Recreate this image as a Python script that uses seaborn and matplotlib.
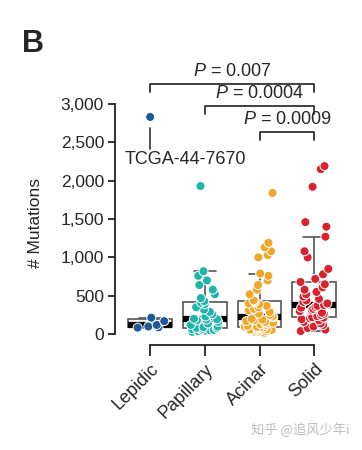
import numpy as np
import pandas as pd
import matplotlib
matplotlib.use("Agg")
import matplotlib.pyplot as plt
import seaborn as sns

# -------- data --------
groups = ["Lepidic", "Papillary", "Acinar", "Solid"]
colors = ["#1f5a96", "#1fb5a8", "#f0a628", "#d8232f"]

lepidic = [85, 90, 100, 120, 170, 215, 2830]
papillary = [30, 40, 45, 50, 55, 60, 65, 75, 78, 82, 90, 100, 120, 140, 160, 180,
             190, 195, 200, 230, 260, 290, 320, 350, 390, 410, 430, 470, 520, 580,
             640, 700, 760, 820, 1930]
acinar = [20, 30, 35, 40, 50, 55, 60, 65, 70, 80, 85, 90, 95, 100, 110, 120, 130,
          140, 150, 160, 170, 180, 190, 200, 220, 230, 250, 270, 290, 310, 330, 350,
          370, 390, 400, 420, 430, 440, 520, 580, 640, 700, 760, 790, 1000, 1030,
          1080, 1130, 1190, 1840]
solid = [40, 60, 80, 100, 120, 140, 160, 180, 195, 205, 215, 220, 235, 250, 265,
         280, 300, 315, 330, 345, 355, 370, 380, 400, 420, 440, 460, 490, 520, 550,
         580, 610, 650, 680, 720, 780, 850, 1000, 1080, 1270, 1400, 1460, 1920,
         2150, 2190]

pairs = [("Lepidic", "Solid", "0.007"),
         ("Papillary", "Solid", "0.0004"),
         ("Acinar", "Solid", "0.0009")]
bracket_y = [3260, 2975, 2635]

values = [lepidic, papillary, acinar, solid]
df = pd.DataFrame({
    "Group": [g for g, v in zip(groups, values) for _ in v],
    "Mutations": [x for v in values for x in v],
})

# -------- style --------
sns.set_style("ticks")
plt.rcParams["font.family"] = ["Liberation Sans", "DejaVu Sans"]
plt.rcParams["mathtext.fontset"] = "custom"
plt.rcParams["mathtext.it"] = "Liberation Sans:italic"
plt.rcParams["mathtext.rm"] = "Liberation Sans"

fig = plt.figure(figsize=(3.62, 4.5), dpi=100)
ax = fig.add_axes([0.318, 0.233, 0.622, 0.656])

sns.boxplot(data=df, x="Group", y="Mutations", order=groups, width=0.8,
            showfliers=False, color="white", linecolor="#555555", linewidth=1.2,
            medianprops=dict(color="black", linewidth=4.5, solid_capstyle="butt"),
            ax=ax)

np.random.seed(7)
sns.stripplot(data=df, x="Group", y="Mutations", order=groups, hue="Group",
              hue_order=groups, palette=colors, legend=False, jitter=0.27,
              size=6.5, edgecolor="white", linewidth=0.7, ax=ax, zorder=3)

# axes look
ax.set_xlim(-0.64, 3.475)
ax.set_ylim(-143, 3703)
ax.set_yticks(range(0, 3001, 500))
ax.set_yticklabels([f"{v:,}" for v in range(0, 3001, 500)], fontsize=12.5)
ax.set_xticks(range(len(groups)))
ax.set_xticklabels(groups, rotation=45, ha="right", va="top",
                   rotation_mode="anchor", fontsize=13)
ax.set_xlabel("")
ax.set_ylabel("")
fig.text(0.097, 0.505, "# Mutations", rotation=90, ha="center", va="center",
         fontsize=12.5)
sns.despine(ax=ax)
ax.spines["left"].set_bounds(0, 3000)
ax.spines["bottom"].set_bounds(0, 3)
for s in ["left", "bottom"]:
    ax.spines[s].set_linewidth(1.3)
    ax.spines[s].set_color("#222222")
ax.tick_params(axis="y", length=5, width=1.3, color="#222222", pad=3)
ax.tick_params(axis="x", length=8, width=1.3, color="#222222", pad=3)

# significance brackets
for (g1, g2, p), y in zip(pairs, bracket_y):
    x1, x2 = groups.index(g1), groups.index(g2)
    ax.plot([x1, x1, x2, x2], [y - 100, y, y, y - 100], color="#333333",
            lw=1.3, clip_on=False)
    ax.text((x1 + x2) / 2, y + 45, f"$P$ = {p}", ha="center", va="bottom",
            fontsize=13)

# label the Lepidic outlier
ox, oy = 0.15, max(lepidic)
for coll in ax.collections:
    offs = coll.get_offsets()
    if len(offs):
        hit = np.where(np.isclose(offs[:, 1], oy))[0]
        if len(hit):
            ox = offs[hit[0], 0]
ax.plot([ox, ox], [oy - 150, oy - 420], color="#333333", lw=1.2)
ax.text(-0.46, oy - 450, "TCGA-44-7670", ha="left", va="top", fontsize=13)

fig.text(0.06, 0.935, "B", fontsize=22, fontweight="bold", ha="left", va="top")
fig.text(0.965, 0.044, "知乎 @追风少年i", ha="right", va="center", fontsize=9.5,
         color="#bdbdbd", family=["Noto Sans CJK SC", "DejaVu Sans"])

fig.savefig("out.png", dpi=100)
